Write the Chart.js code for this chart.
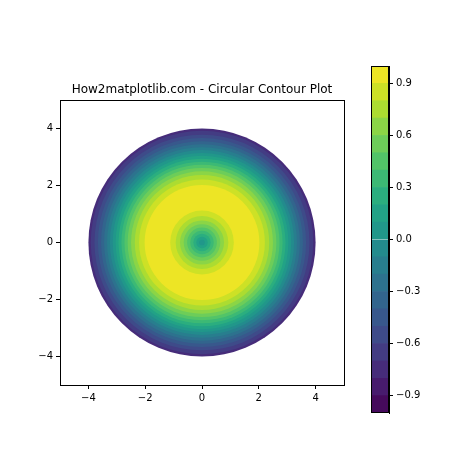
<!DOCTYPE html>
<html lang="en">
<head>
<meta charset="UTF-8">
<title>Circular Contour Plot</title>
<script src="https://cdn.jsdelivr.net/npm/chart.js"></script>
<style>
  body { margin: 0; background: #fff; width: 474px; height: 474px; position: relative; overflow: hidden; }
  .box { position: absolute; }
</style>
</head>
<body>
<div class="box" style="left:30px; top:70px; width:327px; height:340px;"><canvas id="plot"></canvas></div>
<div class="box" style="left:371px; top:57px; width:50px; height:365px;"><canvas id="bar"></canvas></div>
<script>
// contour rings, outer radius of each filled disc (drawn outer to inner) and the lower bound of its level band
const ringRadius = [4.0, 3.917, 3.785, 3.665, 3.553, 3.446, 3.343, 3.242, 3.142, 3.041, 2.940, 2.837, 2.730,
  2.618, 2.498, 2.366, 2.214, 2.021, 1.120, 0.927, 0.775, 0.644, 0.524, 0.412, 0.305, 0.201, 0.100];
const ringLevel = [-0.8, -0.7, -0.6, -0.5, -0.4, -0.3, -0.2, -0.1, 0.0, 0.1, 0.2, 0.3, 0.4,
  0.5, 0.6, 0.7, 0.8, 0.9, 0.8, 0.7, 0.6, 0.5, 0.4, 0.3, 0.2, 0.1, 0.0];
const levels = [-1.0, -0.9, -0.8, -0.7, -0.6, -0.5, -0.4, -0.3, -0.2, -0.1, 0.0, 0.1, 0.2, 0.3, 0.4, 0.5, 0.6, 0.7, 0.8, 0.9, 1.0];
const axisTicks = [-4, -2, 0, 2, 4];
const barTicks = [-0.9, -0.6, -0.3, 0.0, 0.3, 0.6, 0.9];

const viridis = ['#440154','#482475','#414487','#355f8d','#2a788e','#21918c','#22a884','#44bf70','#7ad151','#bddf26','#fde725'];
function hex(h) { return [1,3,5].map(i => parseInt(h.substr(i,2),16)); }
function cmap(t) {
  const p = Math.min(Math.max(t,0),1) * (viridis.length - 1);
  const i = Math.min(Math.floor(p), viridis.length - 2), f = p - i;
  const a = hex(viridis[i]), b = hex(viridis[i+1]);
  return 'rgb(' + a.map((v,k) => Math.round(v + (b[k]-v)*f)).join(',') + ')';
}
function bandColor(lo) {
  const idx = Math.round((lo - levels[0]) / 0.1);
  return cmap((idx + 0.5) / (levels.length - 1));
}

Chart.defaults.font.family = 'DejaVu Sans';
Chart.defaults.font.size = 10;
Chart.defaults.color = '#000';

const rings = {
  id: 'rings',
  beforeDatasetsDraw(chart) {
    const {ctx, scales: {x, y}} = chart;
    const cx = x.getPixelForValue(0), cy = y.getPixelForValue(0);
    ctx.save();
    ringRadius.forEach((r, i) => {
      ctx.beginPath();
      ctx.ellipse(cx, cy, Math.abs(x.getPixelForValue(r) - cx), Math.abs(y.getPixelForValue(r) - cy), 0, 0, Math.PI * 2);
      ctx.fillStyle = bandColor(ringLevel[i]);
      ctx.fill();
    });
    ctx.restore();
  },
  afterDraw(chart) {
    const {ctx, chartArea: a} = chart;
    ctx.save();
    ctx.font = '12px DejaVu Sans';
    ctx.fillStyle = '#000';
    ctx.textAlign = 'center';
    ctx.textBaseline = 'bottom';
    ctx.fillText('How2matplotlib.com - Circular Contour Plot', (a.left + a.right) / 2, a.top - 4);
    ctx.restore();
  }
};

const axisOpts = (w, h) => ({
  type: 'linear', min: -5, max: 5,
  border: { color: '#000', width: 1 },
  grid: { drawOnChartArea: false, tickLength: 4, color: '#000' },
  ticks: { stepSize: 2, callback: v => axisTicks.includes(v) ? String(v).replace('-', '\u2212') : null, autoSkip: false },
  afterFit(s) { if (w) s.width = w; if (h) s.height = h; },
  afterBuildTicks(s) { s.ticks = axisTicks.map(v => ({ value: v })); }
});

new Chart(document.getElementById('plot'), {
  type: 'scatter',
  data: { datasets: [{ data: [] }] },
  options: {
    responsive: true, maintainAspectRatio: false, animation: false,
    layout: { padding: { top: 22, right: 5, left: 0, bottom: 0 } },
    plugins: { legend: { display: false }, tooltip: { enabled: false } },
    scales: {
      x: Object.assign(axisOpts(0, 25), { position: 'bottom' }),
      y: Object.assign(axisOpts(30, 0), { position: 'left' }),
      x2: { type: 'linear', position: 'top', min: -5, max: 5, ticks: { display: false }, grid: { display: false }, border: { color: '#000' } },
      y2: { type: 'linear', position: 'right', min: -5, max: 5, ticks: { display: false }, grid: { display: false }, border: { color: '#000' } }
    }
  },
  plugins: [rings]
});

const bands = levels.slice(0, -1).map((lo, i) => ({
  data: [[lo, levels[i + 1]]],
  backgroundColor: bandColor(lo),
  barPercentage: 1, categoryPercentage: 1, borderWidth: 0
}));

const frame = {
  id: 'frame',
  afterDraw(chart) {
    const {ctx, chartArea: a} = chart;
    ctx.save();
    ctx.strokeStyle = '#000'; ctx.lineWidth = 1;
    ctx.strokeRect(a.left + 0.5, a.top + 0.5, a.right - a.left - 1, a.bottom - a.top - 1);
    ctx.restore();
  }
};

new Chart(document.getElementById('bar'), {
  type: 'bar',
  data: { labels: [''], datasets: bands },
  options: {
    responsive: true, maintainAspectRatio: false, animation: false,
    layout: { padding: 0 },
    plugins: { legend: { display: false }, tooltip: { enabled: false } },
    scales: {
      x: { stacked: true, display: false },
      y: {
        position: 'right', min: -1, max: 1, stacked: false,
        border: { color: '#000' },
        grid: { drawOnChartArea: false, tickLength: 4, color: '#000' },
        afterFit(s) { s.width = 32; },
        afterBuildTicks(s) { s.ticks = barTicks.map(v => ({ value: v })); },
        ticks: { callback: v => v.toFixed(1).replace('-', '\u2212') }
      }
    }
  },
  plugins: [frame]
});
</script>
</body>
</html>
